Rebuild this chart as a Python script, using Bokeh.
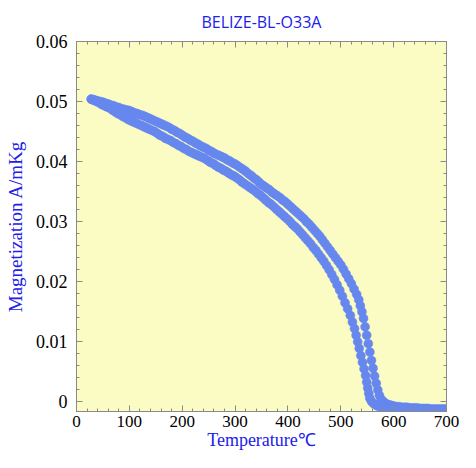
from bokeh.plotting import figure
from bokeh.models import (LinearAxis, FixedTicker, CustomJSTickFormatter, Range1d,
                          ColumnDataSource)
from bokeh.embed import file_html
from bokeh.resources import INLINE

# ---- data ----
upper_T = [28, 32, 36, 40, 45, 50, 55, 60, 65, 70, 75, 80, 85, 90, 95, 100, 105, 110, 115, 120,
           125, 130, 135, 140, 145, 150, 155, 160, 165, 170, 175, 180, 185, 190, 195, 200, 205,
           210, 215, 220, 225, 230, 235, 240, 245, 250, 255, 260, 265, 270, 275, 280, 285, 290,
           295, 300, 305, 310, 315, 320, 325, 330, 335, 340, 345, 350, 355, 360, 365, 370, 375,
           380, 385, 390, 395, 400, 405, 410, 415, 420, 425, 430, 435, 440, 445, 450, 455, 460,
           465, 470, 475, 480, 485, 490, 495, 500, 505, 510, 515, 520, 525, 530, 534, 537, 540,
           543, 546, 549, 552, 555, 558, 561, 564, 567, 570, 573, 576, 580, 584, 588, 592, 596,
           600, 605, 610, 615, 620, 625, 630, 635, 640, 645, 650, 655, 660, 665, 670, 675, 680,
           685, 690, 695, 700]
upper_M = [0.0504, 0.0503, 0.0502, 0.0501, 0.0500, 0.0499, 0.0497, 0.0496, 0.0494, 0.0493,
           0.0491, 0.0490, 0.0488, 0.0487, 0.0486, 0.0485, 0.0483, 0.0481, 0.0480, 0.0478,
           0.0477, 0.0475, 0.0473, 0.0471, 0.0469, 0.0467, 0.0465, 0.0463, 0.0461, 0.0459,
           0.0457, 0.0454, 0.0452, 0.0449, 0.0447, 0.0444, 0.0441, 0.0439, 0.0436, 0.0434,
           0.0431, 0.0429, 0.0426, 0.0424, 0.0422, 0.0419, 0.0417, 0.0414, 0.0412, 0.0410,
           0.0408, 0.0406, 0.0403, 0.0401, 0.0398, 0.0396, 0.0393, 0.0390, 0.0387, 0.0384,
           0.0380, 0.0377, 0.0373, 0.0370, 0.0366, 0.0362, 0.0359, 0.0356, 0.0353, 0.0349,
           0.0346, 0.0343, 0.0340, 0.0336, 0.0333, 0.0329, 0.0325, 0.0321, 0.0317, 0.0313,
           0.0309, 0.0305, 0.0300, 0.0296, 0.0291, 0.0286, 0.0281, 0.0276, 0.0270, 0.0264,
           0.0258, 0.0252, 0.0246, 0.0240, 0.0234, 0.0228, 0.0221, 0.0213, 0.0205, 0.0197,
           0.0188, 0.0179, 0.0170, 0.0160, 0.0150, 0.0139, 0.0125, 0.0111, 0.0097, 0.0083,
           0.0069, 0.0056, 0.0043, 0.0031, 0.0020, 0.0011, 0.0005, 0.0001, -0.0002, -0.0004,
           -0.0005, -0.0006, -0.0007, -0.0008, -0.0008, -0.0009, -0.0009, -0.0009, -0.0010,
           -0.0010, -0.0010, -0.0010, -0.0011, -0.0011, -0.0011, -0.0011, -0.0012, -0.0012,
           -0.0012, -0.0012, -0.0012, -0.0012, -0.0012]

lower_T = [28, 33, 38, 43, 48, 53, 58, 63, 68, 73, 78, 83, 88, 93, 98, 103, 108, 113, 118, 123,
           128, 133, 138, 143, 148, 153, 158, 163, 168, 173, 178, 183, 188, 193, 198, 203, 208,
           213, 218, 223, 228, 233, 238, 243, 248, 253, 258, 263, 268, 273, 278, 283, 288, 293,
           298, 303, 308, 313, 318, 323, 328, 333, 338, 343, 348, 353, 358, 363, 368, 373, 378,
           383, 388, 393, 398, 403, 408, 413, 418, 423, 428, 433, 438, 443, 448, 453, 458, 463,
           468, 473, 478, 483, 488, 493, 498, 503, 508, 513, 518, 522, 526, 529, 532, 535, 538,
           541, 544, 547, 549, 551, 553, 555, 558, 562, 566, 570, 575, 580, 585, 590, 595, 600,
           607, 614, 621, 628, 635, 642, 649, 656, 663, 670, 677, 684, 691, 698]
lower_M = [0.0504, 0.0502, 0.0500, 0.0498, 0.0495, 0.0493, 0.0491, 0.0489, 0.0486, 0.0483,
           0.0480, 0.0478, 0.0475, 0.0473, 0.0470, 0.0468, 0.0466, 0.0464, 0.0462, 0.0460,
           0.0458, 0.0456, 0.0454, 0.0452, 0.0450, 0.0447, 0.0444, 0.0442, 0.0439, 0.0437,
           0.0435, 0.0432, 0.0430, 0.0427, 0.0425, 0.0422, 0.0420, 0.0417, 0.0415, 0.0413,
           0.0411, 0.0409, 0.0407, 0.0405, 0.0402, 0.0399, 0.0397, 0.0394, 0.0391, 0.0389,
           0.0386, 0.0384, 0.0381, 0.0378, 0.0376, 0.0373, 0.0370, 0.0366, 0.0363, 0.0360,
           0.0357, 0.0354, 0.0351, 0.0347, 0.0344, 0.0340, 0.0336, 0.0332, 0.0329, 0.0325,
           0.0321, 0.0317, 0.0313, 0.0309, 0.0305, 0.0301, 0.0296, 0.0292, 0.0288, 0.0283,
           0.0278, 0.0273, 0.0268, 0.0263, 0.0257, 0.0252, 0.0246, 0.0240, 0.0234, 0.0227,
           0.0220, 0.0212, 0.0204, 0.0195, 0.0186, 0.0176, 0.0165, 0.0155, 0.0144, 0.0133,
           0.0122, 0.0111, 0.0100, 0.0089, 0.0077, 0.0066, 0.0055, 0.0044, 0.0033, 0.0023,
           0.0014, 0.0006, 0.0001, -0.0003, -0.0005, -0.0007, -0.0008, -0.0009, -0.0010,
           -0.0010, -0.0011, -0.0011, -0.0012, -0.0012, -0.0012, -0.0013, -0.0013, -0.0013,
           -0.0013, -0.0013, -0.0014, -0.0014, -0.0014, -0.0014, -0.0014]

x_ticks = [0, 100, 200, 300, 400, 500, 600, 700]
y_ticks = [0.0, 0.01, 0.02, 0.03, 0.04, 0.05, 0.06]
x_minor = list(range(0, 701, 20))
y_minor = [i * 0.002 for i in range(-1, 31)]

title_text = "BELIZE-BL-O33A"
x_label = "Temperature℃"
y_label = "Magnetization A/mKg"

# ---- styling ----
DOT = "#6687ee"
BG = "#fbfbc4"
TICK = "#8a8a8a"
BLUE = "#2020ea"
SERIF = "Liberation Serif"

p = figure(width=460, height=452, output_backend="svg", toolbar_location=None,
           x_range=Range1d(0, 700), y_range=Range1d(-0.0016, 0.06),
           min_border_left=76, min_border_right=14, min_border_top=41, min_border_bottom=36,
           x_axis_location="below", y_axis_location="left")
p.background_fill_color = BG
p.border_fill_color = "white"
p.outline_line_color = TICK
p.xgrid.visible = False
p.ygrid.visible = False

p.title.text = title_text
p.title.align = "center"
p.title.vertical_align = "top"
p.title.text_font = "Open Sans"
p.title.text_font_size = "16px"
p.title.text_font_style = "normal"
p.title.text_color = BLUE
p.title.standoff = 14

src_u = ColumnDataSource(dict(x=upper_T, y=upper_M))
src_l = ColumnDataSource(dict(x=lower_T, y=lower_M))
for s in (src_u, src_l):
    p.scatter("x", "y", source=s, size=9, marker="circle", fill_color=DOT,
              line_color=DOT, line_width=0.5)

fmt_y = CustomJSTickFormatter(code="return Math.abs(tick) < 1e-9 ? '0' : tick.toFixed(2);")

def style_axis(ax, ticks, minor, show_labels):
    ax.ticker = FixedTicker(ticks=ticks, minor_ticks=minor)
    ax.axis_line_color = TICK
    ax.major_tick_line_color = TICK
    ax.minor_tick_line_color = TICK
    ax.major_tick_in = 6
    ax.major_tick_out = 0
    ax.minor_tick_in = 3
    ax.minor_tick_out = 0
    if show_labels:
        ax.major_label_text_font = SERIF
        ax.major_label_text_font_size = "18px"
        ax.major_label_text_color = "black"
    else:
        ax.major_label_text_font_size = "0px"
        ax.major_label_standoff = 0

xa = p.xaxis[0]
style_axis(xa, x_ticks, x_minor, True)
xa.major_label_text_font_size = "17px"
xa.major_label_standoff = 4
xa.axis_label = x_label
xa.axis_label_text_font = SERIF
xa.axis_label_text_font_size = "18px"
xa.axis_label_text_font_style = "normal"
xa.axis_label_text_color = BLUE
xa.axis_label_standoff = 0

ya = p.yaxis[0]
style_axis(ya, y_ticks, y_minor, True)
ya.formatter = fmt_y
ya.major_label_standoff = 9
ya.axis_label = y_label
ya.axis_label_text_font = SERIF
ya.axis_label_text_font_size = "19px"
ya.axis_label_text_font_style = "normal"
ya.axis_label_text_color = BLUE
ya.axis_label_standoff = 7

top_ax = LinearAxis()
style_axis(top_ax, x_ticks, x_minor, False)
p.add_layout(top_ax, "above")
right_ax = LinearAxis()
style_axis(right_ax, y_ticks, y_minor, False)
p.add_layout(right_ax, "right")

open("out.html", "w").write(file_html(p, INLINE))
